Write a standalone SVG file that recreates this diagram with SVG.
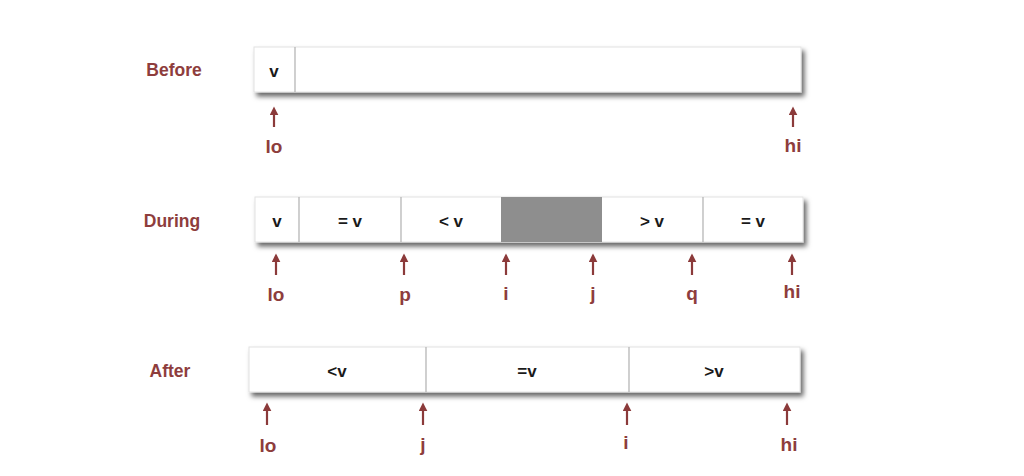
<svg xmlns="http://www.w3.org/2000/svg" width="1024" height="476" viewBox="0 0 1024 476">
<defs>
<filter id="sh" x="-5%" y="-30%" width="110%" height="170%">
<feDropShadow dx="3" dy="4" stdDeviation="2.6" flood-color="#000" flood-opacity="0.6"/>
</filter>
<marker id="ah" viewBox="0 0 10 10" refX="6" refY="5" markerWidth="9" markerHeight="9" markerUnits="userSpaceOnUse" orient="auto">
<path d="M0,0 L10,5 L0,10 Z" fill="#8b3a3a"/>
</marker>
</defs>
<style>
.row{font-family:"Liberation Sans",Arial,sans-serif;font-size:17.5px;font-weight:bold;fill:#8e3d3d;text-anchor:middle}
.ptr{font-family:"Liberation Sans",Arial,sans-serif;font-size:19px;font-weight:bold;fill:#8e3d3d;text-anchor:middle}
.cell{font-family:"Liberation Sans",Arial,sans-serif;font-size:17px;font-weight:bold;fill:#1a1a1a;text-anchor:middle}
.box{fill:#fff;stroke:#e2e2e2;stroke-width:1;filter:url(#sh)}
.div{stroke:#b0b0b0;stroke-width:1.2}
.arr{stroke:#8b3a3a;stroke-width:2.2;fill:none}
</style>
<rect width="1024" height="476" fill="#fff"/>

<g id="before">
<text class="row" x="174" y="76">Before</text>
<rect class="box" x="254" y="47" width="547" height="45"/>
<line class="div" x1="295" y1="47" x2="295" y2="92"/>
<text class="cell" x="274" y="77">v</text>
</g>

<g id="during">
<text class="row" x="172" y="227">During</text>
<rect class="box" x="255" y="197" width="548" height="45"/>
<rect x="501" y="197" width="101" height="45" fill="#8e8e8e"/>
<line class="div" x1="299" y1="197" x2="299" y2="242"/>
<line class="div" x1="401" y1="197" x2="401" y2="242"/>
<line class="div" x1="703" y1="197" x2="703" y2="242"/>
<text class="cell" x="277" y="227">v</text>
<text class="cell" x="350" y="227">= v</text>
<text class="cell" x="451" y="227">&lt; v</text>
<text class="cell" x="652" y="227">&gt; v</text>
<text class="cell" x="753" y="227">= v</text>
</g>

<g id="after">
<text class="row" x="170" y="377">After</text>
<rect class="box" x="249" y="347" width="551" height="45"/>
<line class="div" x1="426" y1="347" x2="426" y2="392"/>
<line class="div" x1="629" y1="347" x2="629" y2="392"/>
<text class="cell" x="337" y="377">&lt;v</text>
<text class="cell" x="527" y="377">=v</text>
<text class="cell" x="714" y="377">&gt;v</text>
</g>

<g id="connectors">
<line class="arr" x1="274" y1="127" x2="274" y2="110" marker-end="url(#ah)"/>
<line class="arr" x1="793" y1="127" x2="793" y2="110" marker-end="url(#ah)"/>
<line class="arr" x1="276" y1="275" x2="276" y2="257" marker-end="url(#ah)"/>
<line class="arr" x1="404" y1="275" x2="404" y2="257" marker-end="url(#ah)"/>
<line class="arr" x1="506" y1="275" x2="506" y2="257" marker-end="url(#ah)"/>
<line class="arr" x1="593" y1="275" x2="593" y2="257" marker-end="url(#ah)"/>
<line class="arr" x1="692" y1="275" x2="692" y2="257" marker-end="url(#ah)"/>
<line class="arr" x1="792" y1="275" x2="792" y2="257" marker-end="url(#ah)"/>
<line class="arr" x1="267" y1="425" x2="267" y2="406" marker-end="url(#ah)"/>
<line class="arr" x1="423" y1="425" x2="423" y2="406" marker-end="url(#ah)"/>
<line class="arr" x1="627" y1="425" x2="627" y2="406" marker-end="url(#ah)"/>
<line class="arr" x1="787" y1="425" x2="787" y2="406" marker-end="url(#ah)"/>
</g>

<g id="pointer-labels">
<text class="ptr" x="274" y="153">lo</text>
<text class="ptr" x="793" y="152">hi</text>
<text class="ptr" x="276" y="301">lo</text>
<text class="ptr" x="405" y="301">p</text>
<text class="ptr" x="506" y="300">i</text>
<text class="ptr" x="593" y="300">j</text>
<text class="ptr" x="692" y="300">q</text>
<text class="ptr" x="792" y="298">hi</text>
<text class="ptr" x="268" y="452">lo</text>
<text class="ptr" x="423" y="451">j</text>
<text class="ptr" x="626" y="449">i</text>
<text class="ptr" x="789" y="451">hi</text>
</g>
</svg>
